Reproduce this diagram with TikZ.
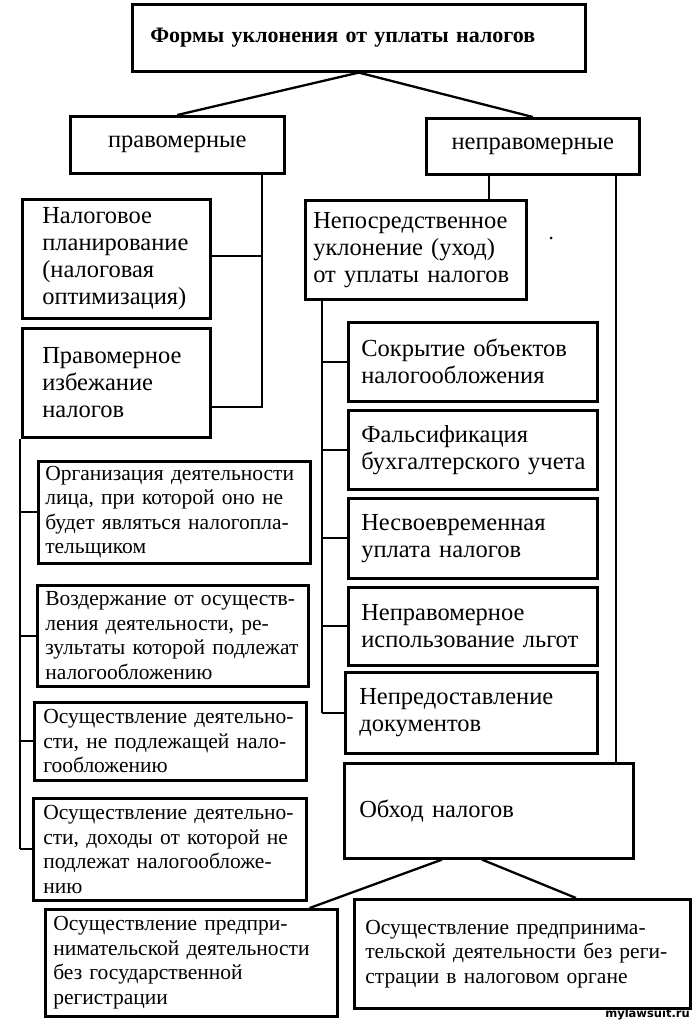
\documentclass[tikz,border=0pt]{standalone}
\usepackage{fontspec}
\setmainfont{Liberation Serif}
\newfontfamily\wmfont{DejaVu Sans}
\usetikzlibrary{calc}
\newcommand\jl[1]{\makebox[\hsize][s]{#1}\\}
\tikzset{
  box/.style={draw, line width=2.6pt, rectangle, anchor=north west, align=left, inner ysep=0pt},
  ln/.style={line width=2.3pt},
  big/.style={font=\fontsize{24.5}{27}\selectfont},
  sm/.style={font=\fontsize{21.5}{24.5}\selectfont},
}
\begin{document}
\begin{tikzpicture}[x=1pt,y=-1pt]
\fill[white] (0,0) rectangle (695,1024);
\useasboundingbox (0,0) rectangle (695,1024);

% top
\node[box, minimum width=453pt, minimum height=67pt, text width=417pt, inner xsep=18pt,
      font=\bfseries\fontsize{22}{24}\selectfont] (title) at (131,3) {\mbox{Формы уклонения от уплаты налогов}};
\node[box, big, align=center, minimum width=214pt, minimum height=57pt] (prav) at (69,115) {правомерные};
\node[box, big, align=center, minimum width=213pt, minimum height=56pt] (neprav) at (425,117) {неправомерные};

% left upper
\node[box, big, minimum width=188pt, minimum height=119pt, text width=148pt, inner xsep=20pt] (nalplan) at (21,198)
  {Налоговое\\\mbox{планирование}\\(налоговая\\\mbox{оптимизация)}};
\node[box, big, minimum width=188pt, minimum height=109pt, text width=148pt, inner xsep=20pt] (pravizb) at (21,327)
  {\mbox{Правомерное}\\избежание\\налогов};

% right upper
\node[box, big, minimum width=221pt, minimum height=99pt, text width=205pt, inner xsep=8pt] (nepos) at (304,199)
  {\mbox{Непосредственное}\\\mbox{уклонение (уход)}\\\mbox{от уплаты налогов}};
\node[box, big, minimum width=249pt, minimum height=79pt, text width=223pt, inner xsep=13pt] (sokr) at (347,321)
  {\mbox{Сокрытие объектов}\\налогообложения};
\node[box, big, minimum width=249pt, minimum height=79pt, text width=223pt, inner xsep=13pt] (fals) at (347,409)
  {Фальсификация\\\mbox{бухгалтерского учета}};
\node[box, big, minimum width=249pt, minimum height=80pt, text width=223pt, inner xsep=13pt] (nesv) at (347,497)
  {Несвоевременная\\\mbox{уплата налогов}};
\node[box, big, minimum width=249pt, minimum height=78pt, text width=223pt, inner xsep=13pt] (neprav2) at (347,586)
  {Неправомерное\\\mbox{использование льгот}};
\node[box, big, minimum width=252pt, minimum height=81pt, text width=224pt, inner xsep=14pt] (nepred) at (344,671)
  {Непредоставление\\документов};
\node[box, big, minimum width=289pt, minimum height=95pt, text width=259pt, inner xsep=15pt] (obhod) at (343,762)
  {Обход налогов};

% left lower
\node[box, sm, minimum width=272pt, minimum height=102pt, text width=258pt, inner xsep=7pt] (org) at (37,460)
  {\jl{Организация деятельности}\jl{лица, при которой оно не}\jl{будет являться налогопла-}тельщиком};
\node[box, sm, minimum width=271pt, minimum height=101pt, text width=255pt, inner xsep=8pt] (vozd) at (36,584)
  {\jl{Воздержание от осуществ-}\jl{ления деятельности, ре-}\jl{зультаты которой подлежат}налогообложению};
\node[box, sm, minimum width=272pt, minimum height=78pt, text width=254pt, inner xsep=9pt] (osusha) at (33,701)
  {\jl{Осуществление деятельно-}\jl{сти, не подлежащей нало-}гообложению};
\node[box, sm, minimum width=273pt, minimum height=102pt, text width=253pt, inner xsep=10pt] (osushb) at (32,797)
  {\jl{Осуществление деятельно-}\jl{сти, доходы от которой не}\jl{подлежат налогообложе-}нию};

% bottom
\node[box, sm, minimum width=292pt, minimum height=107pt, text width=276pt, inner xsep=8pt] (bl) at (44,908)
  {Осуществление предпри-\\\jl{нимательской деятельности}без государственной\\регистрации};
\node[box, sm, minimum width=336pt, minimum height=109pt, text width=314pt, inner xsep=11pt] (br) at (353,898)
  {Осуществление предпринима-\\\jl{тельской деятельности без реги-}страции в налоговом органе};

% connectors
\draw[ln] (title.south) -- (prav.north);
\draw[ln] (title.south) -- (neprav.north);

\coordinate (pja) at (262,256);
\coordinate (pjb) at (262,407);
\draw[ln] (prav.south -| pjb) -- (pjb) -- (pravizb.east |- pjb);
\draw[ln] (nalplan.east |- pja) -- (pja);

\coordinate (nj) at (489,0);
\draw[ln] (neprav.south -| nj) -- (nepos.north -| nj);
\coordinate (rj) at (616,0);
\draw[ln] (neprav.south -| rj) -- (obhod.north -| rj);

\coordinate (mj) at (322,0);
\draw[ln] (nepos.south -| mj) -- (mj |- nepred.west);
\foreach \n in {sokr,fals,nesv,neprav2,nepred}
  \draw[ln] (mj |- \n.west) -- (\n.west);

\coordinate (lj) at (20,0);
\draw[ln] (pravizb.south -| lj) -- (lj |- osushb.west);
\foreach \n in {org,vozd,osusha,osushb}
  \draw[ln] (lj |- \n.west) -- (\n.west);

\draw[ln] ($(obhod.south west)+(99,0)$) -- ($(bl.north east)+(-29,0)$);
\draw[ln] ($(obhod.south west)+(139,0)$) -- ($(br.north west)+(223,0)$);

\fill (551,238) circle (1.5pt);

\node[font=\wmfont\bfseries\fontsize{11.5}{11.5}\selectfont, anchor=south east, inner sep=0pt] (wm) at (690,1020) {mylawsuit.ru};
\end{tikzpicture}
\end{document}
